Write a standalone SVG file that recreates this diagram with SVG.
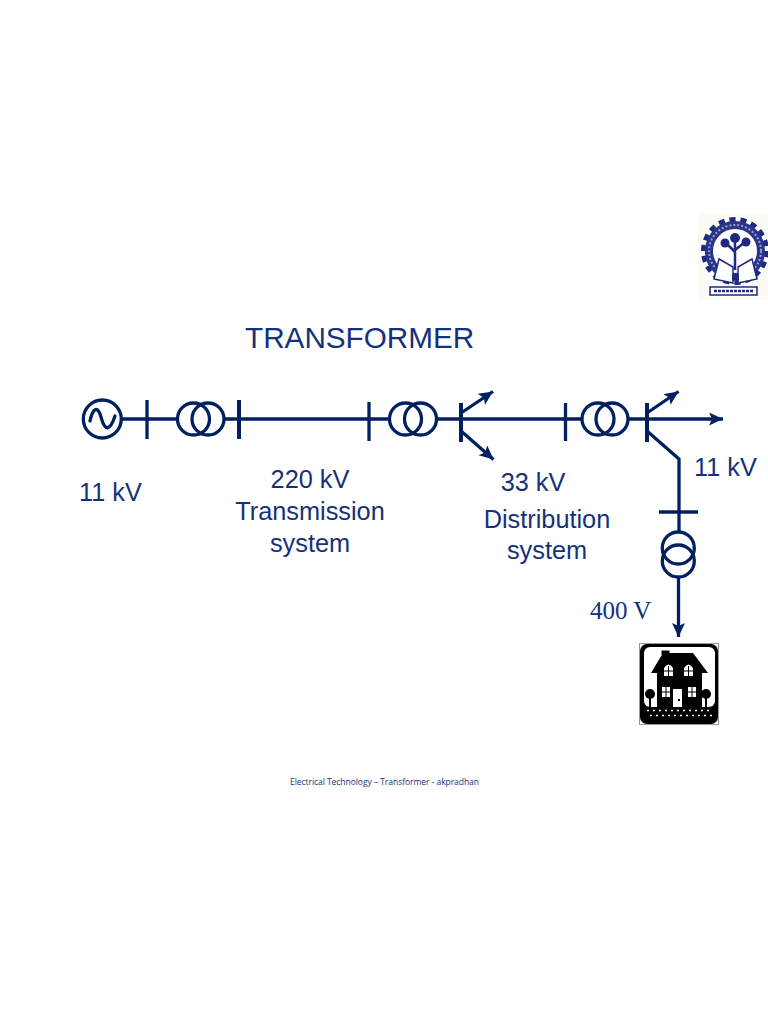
<svg xmlns="http://www.w3.org/2000/svg" width="768" height="1024" viewBox="0 0 768 1024">
<style>
.l{fill:none;stroke:#002060;stroke-width:3.300}
.b{fill:none;stroke:#002060;stroke-width:4}
.t{font-family:"Liberation Sans",Arial,sans-serif;font-size:25.300px;fill:#15317a}
.m{text-anchor:middle}
.w{fill:#fff}
.k{fill:#000}
</style>
<defs>
<marker id="arr" markerUnits="userSpaceOnUse" markerWidth="16" markerHeight="14" refX="14" refY="6.500" orient="auto"><path d="M0 0L14 6.500L0 13L3 6.500Z" fill="#002060"/></marker>
</defs>
<rect width="768" height="1024" fill="#fff"/>
<g id="connectors">
<path class="l" d="M122 419H177M224 419H389M437 419H582"/>
<path class="l" d="M628 419H723" stroke-width="2.800" marker-end="url(#arr)"/>
<path class="l" d="M461 413L493 391.500" marker-end="url(#arr)"/>
<path class="l" d="M461 431L493.500 459.500" marker-end="url(#arr)"/>
<path class="l" d="M647 413L678.500 391.500" marker-end="url(#arr)"/>
<path class="l" d="M647 431L679 459V531"/>
<path class="l" d="M678.500 577V637" marker-end="url(#arr)"/>
</g>
<g id="generator"><circle class="l" cx="102.300" cy="419" r="19"/><path class="l" stroke-linecap="round" d="M90 421C93 407 98 406 101 417C105 432 110 431 115 416"/></g>
<g id="bus1"><path class="l" d="M147 400V439"/></g>
<g id="transformer1"><circle class="l" cx="193.500" cy="419" r="16"/><circle class="l" cx="208" cy="419" r="16"/></g>
<g id="bus2"><path class="b" d="M239 400V439"/></g>
<g id="bus3"><path class="l" d="M369 402V441"/></g>
<g id="transformer2"><circle class="l" cx="405.500" cy="419" r="16"/><circle class="l" cx="420.500" cy="419" r="16"/></g>
<g id="bus4"><path class="b" d="M461 403V442"/></g>
<g id="bus5"><path class="l" d="M565.500 403V441"/></g>
<g id="transformer3"><circle class="l" cx="598" cy="419" r="16"/><circle class="l" cx="612" cy="419" r="16"/></g>
<g id="bus6"><path class="b" d="M647 403V442"/></g>
<g id="bus7"><path class="l" d="M659 512H698"/></g>
<g id="transformer4"><circle class="l" cx="678.300" cy="548" r="16"/><circle class="l" cx="678.300" cy="561" r="16"/></g>
<g id="house">
<rect x="639.500" y="643.500" width="79" height="81" fill="#fff" stroke="#999" stroke-width="1"/>
<rect x="640" y="644" width="78" height="80" rx="7" fill="#000"/>
<rect x="644" y="647" width="71" height="60" rx="6" class="w"/>
<path class="k" d="M651 673L663 653H693L708 673H702V708H657V673Z"/>
<rect class="k" x="661.500" y="650.500" width="8" height="4"/>
<path class="w" d="M664 676V668Q668.500 661 673 668V676ZM684 676V668Q688.500 661 693 668V676Z"/>
<path d="M668.500 666V676M688.500 666V676M664 671H673M684 671H693" stroke="#000" stroke-width="1"/>
<path class="w" d="M662 687H670V697H662ZM688 687H696V697H688ZM673 689H682V707H673Z"/>
<path d="M666 687V697M662 692H670M692 687V697M688 692H696" stroke="#000" stroke-width="1"/>
<rect class="k" x="678" y="699" width="2" height="2"/>
<circle class="k" cx="650" cy="694" r="5"/><circle class="k" cx="706" cy="694" r="5"/>
<path d="M650 697V707M706 697V707" stroke="#000" stroke-width="2"/>
<path d="M647 710.500H712M650 715.500H712" stroke="#fff" stroke-width="1.500" stroke-dasharray="2 4"/>
</g>
<g id="logo">
<rect x="698" y="213" width="70" height="87" fill="#fcfbf7"/>
<circle cx="735" cy="251" r="31" fill="none" stroke="#1e2a80" stroke-width="6" stroke-dasharray="6 4.800"/>
<circle cx="735" cy="251" r="26" fill="none" stroke="#2a3488" stroke-width="8"/>
<circle cx="735" cy="251" r="26" fill="none" stroke="#9aa0cc" stroke-width="2" stroke-dasharray="2 2"/>
<circle cx="735" cy="251" r="21" fill="#fff"/>
<path d="M735 270V238M735 252L726 243M735 250L745 242" stroke="#1e2a80" stroke-width="2.500" fill="none"/>
<circle cx="735" cy="238" r="5" fill="#1e2a80"/><circle cx="725" cy="243" r="4.500" fill="#1e2a80"/><circle cx="746" cy="242" r="4.500" fill="#1e2a80"/>
<path d="M719 259L733 267V283L714 279ZM752 259L738 267V283L757 279Z" fill="#fff" stroke="#1e2a80" stroke-width="1.500"/>
<path d="M732 274H739V280H732Z" fill="#1e2a80"/>
<path d="M710 287H757V295H710Z" fill="#fff" stroke="#1e2a80" stroke-width="1.500"/>
<path d="M714 291H753" stroke="#1e2a80" stroke-width="2.500" stroke-dasharray="3 1"/>
</g>
<g id="labels">
<text class="t" x="245" y="348" style="font-size:29.700px">TRANSFORMER</text>
<text class="t" x="79" y="501">11 kV</text>
<text class="t m" x="310" y="488">220 kV</text>
<text class="t m" x="310" y="520">Transmission</text>
<text class="t m" x="310" y="552">system</text>
<text class="t m" x="533" y="491">33 kV</text>
<text class="t m" x="547" y="528">Distribution</text>
<text class="t m" x="547" y="559">system</text>
<text class="t" x="694" y="476">11 kV</text>
<text x="590" y="619" style="font-family:'Liberation Serif',serif;font-size:25px;fill:#15317a">400 V</text>
<text x="290" y="785" textLength="189" style="font-family:'Open Sans',sans-serif;font-size:8.500px;fill:#15317a">Electrical Technology – Transformer - akpradhan</text>
</g>
</svg>
